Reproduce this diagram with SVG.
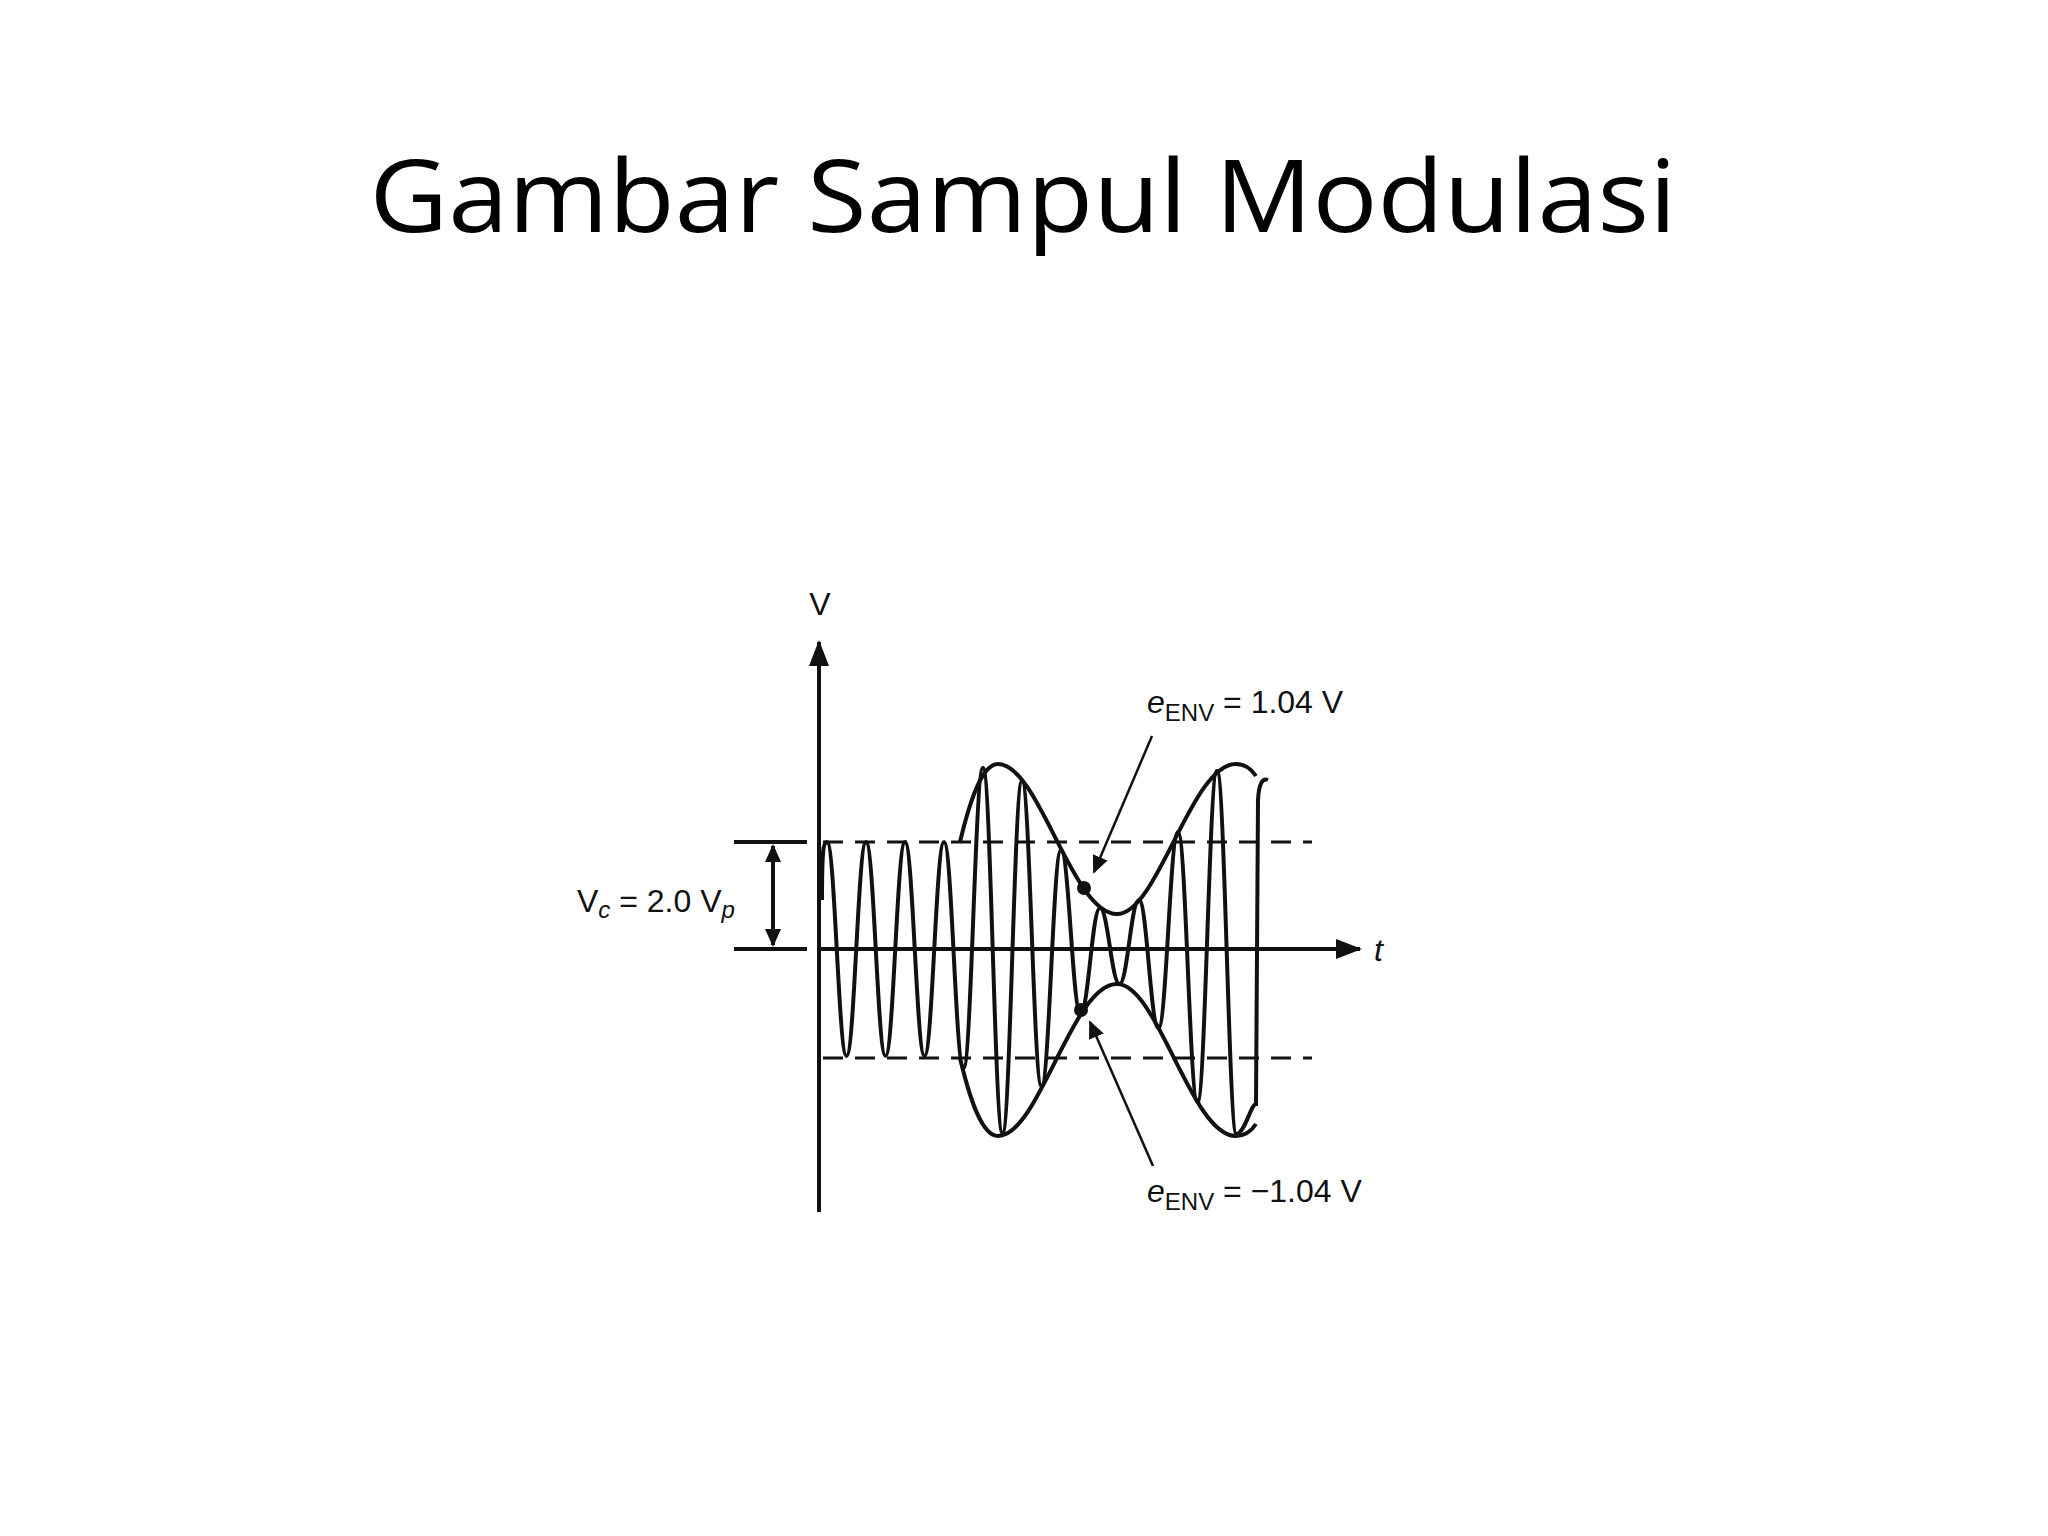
<svg xmlns="http://www.w3.org/2000/svg" width="2048" height="1536" viewBox="0 0 2048 1536">
<style>
.ln{stroke:#111;stroke-width:4;fill:none}
.dash{stroke:#111;stroke-width:3;stroke-dasharray:20 12;fill:none}
.lbl{font-family:"Liberation Sans",Arial,sans-serif;font-size:32px;fill:#111}
</style>
<defs>
<marker id="big" markerWidth="26" markerHeight="20" refX="24" refY="10" orient="auto" markerUnits="userSpaceOnUse" viewBox="0 0 26 20"><path d="M0,0 L26,10 L0,20 z" fill="#111"/></marker>
<marker id="sm" markerWidth="18" markerHeight="16" refX="16" refY="8" orient="auto" markerUnits="userSpaceOnUse" viewBox="0 0 18 16"><path d="M0,0 L18,8 L0,16 z" fill="#111"/></marker>
</defs>
<rect width="2048" height="1536" fill="#fff"/>
<text x="1023" y="232" text-anchor="middle" font-family="'Open Sans','Noto Sans',sans-serif" font-size="100" fill="#000" textLength="1307" lengthAdjust="spacingAndGlyphs">Gambar Sampul Modulasi</text>
<g id="axes">
<line class="ln" x1="819" y1="1212" x2="819" y2="642" marker-end="url(#big)"/>
<line class="ln" x1="819" y1="949" x2="1360" y2="949" marker-end="url(#big)"/>
<text class="lbl" x="820" y="615" text-anchor="middle">V</text>
<text class="lbl" x="1374" y="961" font-style="italic">t</text>
</g>
<g id="reference-lines">
<line class="dash" x1="823" y1="842" x2="1312" y2="842"/>
<line class="dash" x1="823" y1="1058" x2="1312" y2="1058"/>
<line class="ln" x1="734" y1="842" x2="807" y2="842"/>
<line class="ln" x1="734" y1="949" x2="807" y2="949"/>
<line class="ln" x1="773" y1="880" x2="773" y2="846" marker-end="url(#sm)"/>
<line class="ln" x1="773" y1="900" x2="773" y2="945" marker-end="url(#sm)"/>
<line class="ln" x1="773" y1="860" x2="773" y2="930"/>
<text class="lbl" x="577" y="912">V<tspan font-size="24" font-style="italic" dy="6">c</tspan><tspan dy="-6"> = 2.0 V</tspan><tspan font-size="24" font-style="italic" dy="6">p</tspan></text>
</g>
<g id="envelope">
<path class="ln" d="M960,842 C970,800 982,764 998,764 C1039,764 1072,914 1117,914 C1158,914 1191,764 1236,764 C1246,764 1252,770 1256,776"/>
<path class="ln" d="M960,1058 C970,1100 982,1136 998,1136 C1039,1136 1072,984 1117,984 C1158,984 1191,1136 1236,1136 C1246,1136 1252,1130 1256,1124"/>
</g>
<g id="carrier">
<path class="ln" d="M822,900 C822,850 823,842 827,842 C835,842 838.5,1056 846.5,1056 C854.5,1056 858,842 866,842 C874,842 877.5,1056 885.5,1056 C893.5,1056 897,842 905,842 C913,842 916.5,1056 924.5,1056 C932.5,1056 936,842 944,842 C952,842 955.5,1068 963.5,1068 C971.5,1068 975,768 983,768 C991,768 994.5,1133 1002.5,1133 C1010.5,1133 1014,781 1022,781 C1030,781 1033.5,1086 1041.5,1086 C1049.5,1086 1053,850 1061,850 C1069,850 1072.5,1013 1080.5,1013 C1088.5,1013 1092,908 1100,908 C1108,908 1111.5,984 1119.5,984 C1127.5,984 1131,900 1139,900 C1147,900 1150.5,1028 1158.5,1028 C1166.5,1028 1170,832 1178,832 C1186,832 1189.5,1102 1197.5,1102 C1205.5,1102 1209,771 1217,771 C1225,771 1228.5,1134 1236.5,1134 C1244.5,1134 1251,1104 1256,1104 L1258,800 C1259,782 1263,778 1268,780"/>
</g>
<g id="label-upper">
<text class="lbl" x="1147" y="713" font-style="italic">e<tspan font-style="normal" font-size="24" dy="8">ENV</tspan><tspan font-style="normal" dy="-8"> = 1.04 V</tspan></text>
<line stroke="#111" stroke-width="2.5" x1="1152" y1="736" x2="1094" y2="872" marker-end="url(#sm)"/>
<circle cx="1084" cy="888" r="7" fill="#111"/>
</g>
<g id="label-lower">
<text class="lbl" x="1147" y="1202" font-style="italic">e<tspan font-style="normal" font-size="24" dy="8">ENV</tspan><tspan font-style="normal" dy="-8"> = −1.04 V</tspan></text>
<line stroke="#111" stroke-width="2.5" x1="1153" y1="1166" x2="1090" y2="1022" marker-end="url(#sm)"/>
<circle cx="1081" cy="1010" r="7" fill="#111"/>
</g>
</svg>
